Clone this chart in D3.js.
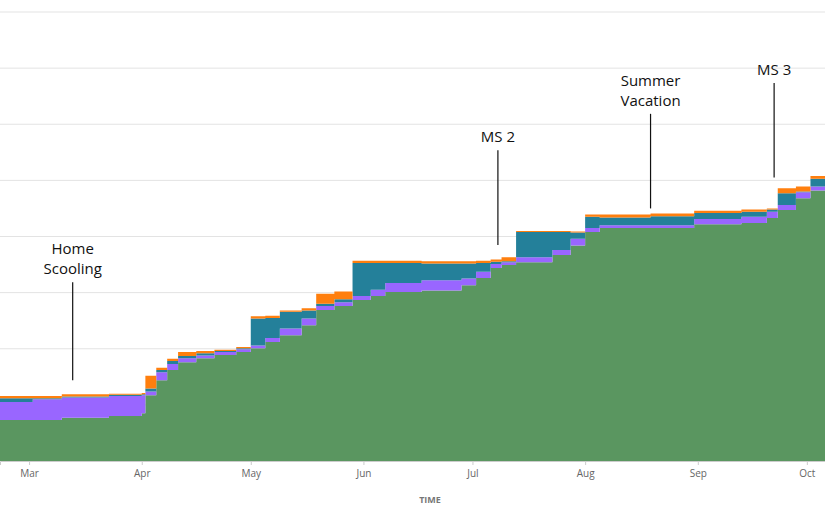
<!DOCTYPE html>
<html><head><meta charset="utf-8">
<script src="https://cdn.jsdelivr.net/npm/d3@7"></script>
<style>body{margin:0;background:#fff}svg{display:block;font-family:"Open Sans",sans-serif}</style>
</head><body><svg id="c" width="825" height="510"></svg>
<script>
const dates=["2020-02-22","2020-03-02","2020-03-10","2020-03-23","2020-04-01","2020-04-02","2020-04-05","2020-04-08","2020-04-11","2020-04-16","2020-04-21","2020-04-27","2020-05-01","2020-05-05","2020-05-09","2020-05-15","2020-05-19","2020-05-24","2020-05-29","2020-06-03","2020-06-07","2020-06-17","2020-06-28","2020-07-02","2020-07-06","2020-07-09","2020-07-13","2020-07-23","2020-07-28","2020-08-01","2020-08-05","2020-08-19","2020-08-31","2020-09-13","2020-09-20","2020-09-23","2020-09-28","2020-10-02","2020-10-06"];
const green=[7.3,7.3,7.7,8.0,8.5,11.7,14.4,16.2,17.6,18.3,18.9,19.4,20.1,21.2,22.4,24.2,26.9,27.6,28.7,29.4,30.1,30.4,31.3,32.6,34.4,34.9,35.4,36.7,38.4,40.8,41.5,41.5,42.2,42.4,43.3,44.7,46.8,48.2,49.1];
const purple=[3.2,3.7,3.6,3.6,3.2,0.7,1.4,1.1,0.7,0.5,0.5,0.5,0.5,0.7,1.2,1.2,0.7,0.7,0.7,1.1,1.6,1.8,1.2,1.1,0.7,0.5,0.9,0.9,1.2,0.7,0.5,0.5,0.9,1.1,1.1,0.9,1.1,0.7,0.5];
const teal=[0.7,0.2,0.2,0.2,0.2,0.5,0.4,0.5,0.4,0.4,0.2,0.2,4.8,3.6,3.0,1.4,0.4,0.5,5.9,4.8,3.6,3.0,2.7,1.6,0.4,0.2,4.5,3.2,1.1,2.0,1.4,1.6,1.1,0.9,0.4,2.1,0.1,1.4,1.1];
const orange=[0.4,0.4,0.4,0.2,0.2,2.3,0.4,0.4,0.7,0.4,0.2,0.2,0.4,0.4,0.2,0.4,1.8,1.4,0.4,0.4,0.4,0.4,0.4,0.4,0.4,0.7,0.2,0.2,0.2,0.4,0.5,0.5,0.4,0.4,0.2,0.9,0.9,0.5,0.4];
const seriesNames=["green","purple","teal","orange"];
const colors=["#5a9660","#9966ff","#24809a","#ff7f0e"];
const notes=[{date:"2020-03-13",lines:["Home","Scooling"],top:31.5,bottom:14.4},
{date:"2020-07-08",lines:["MS 2"],top:55,bottom:38.5},
{date:"2020-08-19",lines:["Summer","Vacation"],top:61.5,bottom:45},
{date:"2020-09-22",lines:["MS 3"],top:67,bottom:50.5}];
const tickDates=["2020-03-01","2020-04-01","2020-05-01","2020-06-01","2020-07-01","2020-08-01","2020-09-01","2020-10-01"];
const tickLabels=["Mar","Apr","May","Jun","Jul","Aug","Sep","Oct"];

const P=d3.timeParse("%Y-%m-%d");
const rows=dates.map((d,i)=>({date:P(d),green:green[i],purple:purple[i],teal:teal[i],orange:orange[i]}));
const svg=d3.select("#c");
const x=d3.scaleTime().domain([P("2020-02-22"),P("2020-10-06")]).range([0,825]);
const y=d3.scaleLinear().domain([0,80]).range([461,12]);
svg.append("g").selectAll("line").data(d3.range(10,90,10)).join("line")
 .attr("x1",0).attr("x2",825).attr("y1",d=>y(d)).attr("y2",d=>y(d)).attr("stroke","#e3e3e3");
const stack=d3.stack().keys(seriesNames)(rows);
const area=d3.area().x(d=>x(d.data.date)).y0(d=>y(d[0])).y1(d=>y(d[1])).curve(d3.curveStepAfter);
svg.append("g").selectAll("path").data(stack).join("path").attr("d",area).attr("fill",(d,i)=>colors[i]);
const ax=svg.append("g").attr("transform","translate(0,461)")
 .call(d3.axisBottom(x).tickValues(tickDates.map(P)).tickFormat((d,i)=>tickLabels[i]).tickSize(4).tickPadding(5));
ax.select(".domain").attr("stroke","#ccc");
ax.selectAll(".tick line").attr("stroke","#ccc");
ax.selectAll("text").attr("fill","#666").attr("font-size",10).attr("font-family","Open Sans");
svg.append("text").attr("x",430).attr("y",503).attr("text-anchor","middle").attr("font-size",9).attr("font-weight","bold").attr("fill","#777").text("TIME");
const g=svg.append("g");
notes.forEach(n=>{const xx=x(P(n.date));
 g.append("line").attr("x1",xx).attr("x2",xx).attr("y1",y(n.top)-2).attr("y2",y(n.bottom)).attr("stroke","#111").attr("stroke-width",1.2);
 const t=g.append("text").attr("x",xx).attr("text-anchor","middle").attr("font-size",15).attr("fill","#111");
 n.lines.forEach((l,i)=>t.append("tspan").attr("x",xx).attr("y",y(n.top)-10-(n.lines.length-1-i)*20).text(l));
});
</script></body></html>
